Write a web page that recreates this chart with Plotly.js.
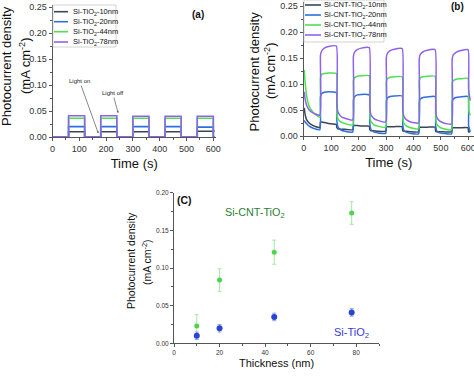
<!DOCTYPE html>
<html><head><meta charset="utf-8">
<script src="https://cdn.plot.ly/plotly-3.0.1.min.js"></script>
<style>html,body{margin:0;padding:0;background:#fff}#chart{width:474px;height:376px}</style>
</head><body><div id="chart"></div>
<script>
// ---------- Data ----------
// Panel (a): Si-TiO2 square-wave response
const tA = [0,60,60,120,120,180,180,240,240,300,300,360,360,420,420,480,480,540,540,600,600,605];
const a10 = [0.0005,0.0005,0.010,0.010,0.0005,0.0005,0.010,0.010,0.0005,0.0005,0.010,0.010,0.0005,0.0005,0.010,0.010,0.0005,0.0005,0.011,0.011,0.011,0.011];
const a20 = [0.0005,0.0005,0.020,0.020,0.0005,0.0005,0.020,0.020,0.0005,0.0005,0.020,0.020,0.0005,0.0005,0.020,0.020,0.0005,0.0005,0.019,0.019,0.0005,0.0005];
const a44 = [0.0005,0.0005,0.036,0.036,0.0005,0.0005,0.036,0.036,0.0005,0.0005,0.036,0.036,0.0005,0.0005,0.036,0.036,0.0005,0.0005,0.036,0.036,0.0005,0.0005];
const a78 = [0.0005,0.0005,0.041,0.041,0.0005,0.0005,0.041,0.041,0.0005,0.0005,0.040,0.040,0.0005,0.0005,0.040,0.040,0.0005,0.0005,0.040,0.040,0.0005,0.0005];
const namesA = ['Si-TiO<sub>2</sub>-10nm','Si-TiO<sub>2</sub>-20nm','Si-TiO<sub>2</sub>-44nm','Si-TiO<sub>2</sub>-78nm'];

// Panel (b): Si-CNT-TiO2 transient response
const tB = [2,5,10,20,35,59, 61,65,75,90,119, 121,125,135,150,179, 181,185,195,210,239, 241,245,255,270,299,
            301,305,315,330,359, 361,365,375,390,419, 421,425,435,450,479, 481,485,495,510,539, 541,545,555,570,599, 601,607];
const b10 = [0.054,0.042,0.032,0.025,0.020,0.016, 0.027,0.027,0.026,0.024,0.022, 0.016,0.014,0.013,0.013,0.012,
             0.020,0.020,0.020,0.019,0.019, 0.012,0.010,0.010,0.009,0.009, 0.018,0.018,0.018,0.018,0.018,
             0.010,0.009,0.009,0.008,0.008, 0.017,0.017,0.017,0.017,0.017, 0.009,0.008,0.008,0.008,0.008,
             0.016,0.016,0.016,0.016,0.016, 0.008,0.008];
const b20 = [0.030,0.027,0.024,0.019,0.015,0.012, 0.075,0.081,0.084,0.085,0.083, 0.028,0.017,0.012,0.009,0.008,
             0.068,0.075,0.079,0.080,0.079, 0.024,0.013,0.008,0.006,0.005, 0.066,0.073,0.076,0.077,0.077,
             0.022,0.011,0.007,0.005,0.004, 0.065,0.071,0.074,0.075,0.076, 0.020,0.010,0.006,0.005,0.004,
             0.065,0.071,0.074,0.075,0.076, 0.020,0.008];
const b44 = [0.127,0.105,0.080,0.057,0.045,0.036, 0.112,0.118,0.120,0.121,0.120, 0.045,0.033,0.027,0.024,0.021,
             0.106,0.112,0.115,0.116,0.116, 0.040,0.028,0.022,0.019,0.017, 0.104,0.110,0.113,0.114,0.114,
             0.036,0.025,0.019,0.016,0.014, 0.106,0.112,0.114,0.115,0.115, 0.034,0.023,0.017,0.014,0.012,
             0.100,0.106,0.109,0.110,0.111, 0.050,0.040];
const b78 = [0.085,0.072,0.060,0.050,0.044,0.040, 0.155,0.163,0.169,0.172,0.173, 0.060,0.046,0.038,0.034,0.031,
             0.152,0.161,0.166,0.169,0.170, 0.055,0.041,0.034,0.030,0.027, 0.150,0.159,0.164,0.167,0.168,
             0.052,0.038,0.031,0.027,0.025, 0.148,0.157,0.162,0.165,0.166, 0.050,0.036,0.029,0.025,0.023,
             0.147,0.156,0.161,0.164,0.166, 0.090,0.068];
const namesB = ['Si-CNT-TiO<sub>2</sub>-10nm','Si-CNT-TiO<sub>2</sub>-20nm','Si-CNT-TiO<sub>2</sub>-44nm','Si-CNT-TiO<sub>2</sub>-78nm'];

// Panel (c): photocurrent vs thickness
const thickness = [10, 20, 44, 78];
const siTiO2 = [0.010, 0.020, 0.035, 0.041];
const siTiO2Err = [0.005, 0.005, 0.005, 0.005];
const siCntTiO2 = [0.023, 0.084, 0.121, 0.173];
const siCntTiO2Err = [0.015, 0.015, 0.016, 0.015];

// ---------- Styling ----------
const colors = ['#3a4658', '#2f6fdc', '#4fe04f', '#8f62ee'];
const FONT = 'Arial, "Liberation Sans", sans-serif';
const W = 474, H = 376;
const px = x => x / W;
const py = y => 1 - y / H;

const traces = [];
[a10, a20, a44, a78].forEach((ys, i) => traces.push({
  x: tA, y: ys, xaxis: 'x', yaxis: 'y', type: 'scatter', mode: 'lines',
  line: {color: colors[i], width: 1.6}, showlegend: false, name: namesA[i]
}));
[b10, b20, b44, b78].forEach((ys, i) => traces.push({
  x: tB, y: ys, xaxis: 'x2', yaxis: 'y2', type: 'scatter', mode: 'lines',
  line: {color: colors[i], width: 1.5, shape: 'spline', smoothing: 0.4}, showlegend: false, name: namesB[i]
}));
traces.push({
  x: thickness, y: siCntTiO2, xaxis: 'x3', yaxis: 'y3', type: 'scatter', mode: 'markers',
  marker: {color: '#4cd44c', size: 5}, showlegend: false, name: 'Si-CNT-TiO2',
  error_y: {type: 'data', array: siCntTiO2Err, visible: true, color: '#a6e8a6', thickness: 1, width: 2}
});
traces.push({
  x: thickness, y: siTiO2, xaxis: 'x3', yaxis: 'y3', type: 'scatter', mode: 'markers',
  marker: {color: '#2a44d2', size: 6}, showlegend: false, name: 'Si-TiO2',
  error_y: {type: 'data', array: siTiO2Err, visible: true, color: '#8fa0e8', thickness: 1, width: 2}
});

function axisBase(fs) {
  return {
    showline: true, linecolor: '#555', linewidth: 1, mirror: false,
    ticks: 'outside', ticklen: 3, tickcolor: '#555', tickwidth: 1,
    showgrid: false, zeroline: false, automargin: false, ticklabeloverflow: 'allow',
    tickfont: {family: FONT, size: fs, color: '#333'}
  };
}

const layout = {
  width: W, height: H, margin: {l: 0, r: 0, t: 0, b: 0},
  paper_bgcolor: '#fff', plot_bgcolor: 'rgba(0,0,0,0)',
  showlegend: false,
  font: {family: FONT, color: '#222'},
  xaxis: Object.assign(axisBase(9), {domain: [px(52.5), px(216)], range: [0, 610], dtick: 100, tick0: 0,
    minor: {ticks: 'outside', ticklen: 2, dtick: 50, tickcolor: '#555'}, anchor: 'y',
    title: {text: 'Time (s)', font: {family: FONT, size: 13, color: '#111'}, standoff: 6}}),
  yaxis: Object.assign(axisBase(9), {domain: [py(137), py(5)], range: [0, 0.2543], dtick: 0.05, tick0: 0, tickformat: '.2f',
    minor: {ticks: 'outside', ticklen: 2, dtick: 0.025, tickcolor: '#555'}, anchor: 'x'}),
  xaxis2: Object.assign(axisBase(9), {domain: [px(303.7), px(473.8)], range: [0, 620], dtick: 100, tick0: 0,
    minor: {ticks: 'outside', ticklen: 2, dtick: 50, tickcolor: '#555'}, anchor: 'y2',
    title: {text: 'Time (s)', font: {family: FONT, size: 13, color: '#111'}, standoff: 6}}),
  yaxis2: Object.assign(axisBase(9), {domain: [py(136), py(2)], range: [0, 0.2577], dtick: 0.05, tick0: 0, tickformat: '.2f',
    minor: {ticks: 'outside', ticklen: 2, dtick: 0.025, tickcolor: '#555'}, anchor: 'x2'}),
  xaxis3: Object.assign(axisBase(6.5), {domain: [px(174), px(379)], range: [0, 90], dtick: 20, tick0: 0,
    minor: {ticks: 'outside', ticklen: 2, dtick: 10, tickcolor: '#555'}, anchor: 'y3',
    title: {text: 'Thickness (nm)', font: {family: FONT, size: 11, color: '#111'}, standoff: 4}}),
  yaxis3: Object.assign(axisBase(6.5), {domain: [py(343.3), py(192.7)], range: [0, 0.2], dtick: 0.05, tick0: 0, tickformat: '.2f',
    minor: {ticks: 'outside', ticklen: 2, dtick: 0.025, tickcolor: '#555'}, anchor: 'x3'}),
  shapes: [],
  annotations: []
};

const ann = layout.annotations, shp = layout.shapes;
function ptext(text, x, y, size, opts) {
  ann.push(Object.assign({text: text, x: px(x), y: py(y), xref: 'paper', yref: 'paper', showarrow: false,
    font: {family: FONT, size: size, color: '#111'}, xanchor: 'center', yanchor: 'middle'}, opts || {}));
}
// Y-axis titles
ptext('Photocurrent density', 7, 66, 13, {textangle: -90});
ptext('(mA cm<sup>-2</sup>)', 25, 66, 13, {textangle: -90});
ptext('Photocurrent density', 253.5, 71, 13, {textangle: -90});
ptext('(mA cm<sup>-2</sup>)', 270, 71, 13, {textangle: -90});
ptext('Photocurrent density', 131, 261, 10.5, {textangle: -90});
ptext('(mA cm<sup>-2</sup>)', 146, 262, 10.5, {textangle: -90});
// Panel labels
ptext('<b>(a)</b>', 198, 14, 10);
ptext('<b>(b)</b>', 457.5, 7, 10);
ptext('<b>(C)</b>', 184.7, 200, 10.5);
ptext('Si-CNT-TiO<sub>2</sub>', 255.3, 213, 10.8, {font: {family: FONT, size: 10.8, color: '#2a7f32'}});
ptext('Si-TiO<sub>2</sub>', 351.3, 333, 11, {font: {family: FONT, size: 11, color: '#3b3bd4'}});

// Light on / off arrows (panel a)
ann.push({text: 'Light on', x: 171, y: 0.007, xref: 'x', yref: 'y', showarrow: true, ax: -18.8, ay: -52.3,
  arrowhead: 2, arrowsize: 0.6, arrowwidth: 0.7, arrowcolor: '#555', font: {family: FONT, size: 6, color: '#222'}});
ann.push({text: 'Light off', x: 245, y: 0.046, xref: 'x', yref: 'y', showarrow: true, ax: -5.5, ay: -20,
  arrowhead: 2, arrowsize: 0.6, arrowwidth: 0.7, arrowcolor: '#555', font: {family: FONT, size: 6, color: '#222'}});

// Manual legends
function legend(names, x0, x1, y0, y1, lx0, lx1, tx, rowY) {
  shp.push({type: 'rect', xref: 'paper', yref: 'paper', x0: px(x0), x1: px(x1), y0: py(y1), y1: py(y0),
    line: {color: '#c8c8c8', width: 0.8}, fillcolor: 'rgba(255,255,255,0.9)', layer: 'above'});
  names.forEach((n, i) => {
    const yy = rowY[i];
    shp.push({type: 'line', xref: 'paper', yref: 'paper', x0: px(lx0), x1: px(lx1), y0: py(yy), y1: py(yy),
      line: {color: colors[i], width: 1.6}, layer: 'above'});
    ptext(n, tx, yy, 7.5, {xanchor: 'left'});
  });
}
legend(namesA, 53, 116, 5, 47, 54, 68, 71, [11.7, 21.7, 31.7, 42]);
legend(namesB, 304, 384, 0, 42, 305, 321, 322, [5, 15, 25, 35]);

Plotly.newPlot('chart', traces, layout, {staticPlot: true, displayModeBar: false});
</script></body></html>
